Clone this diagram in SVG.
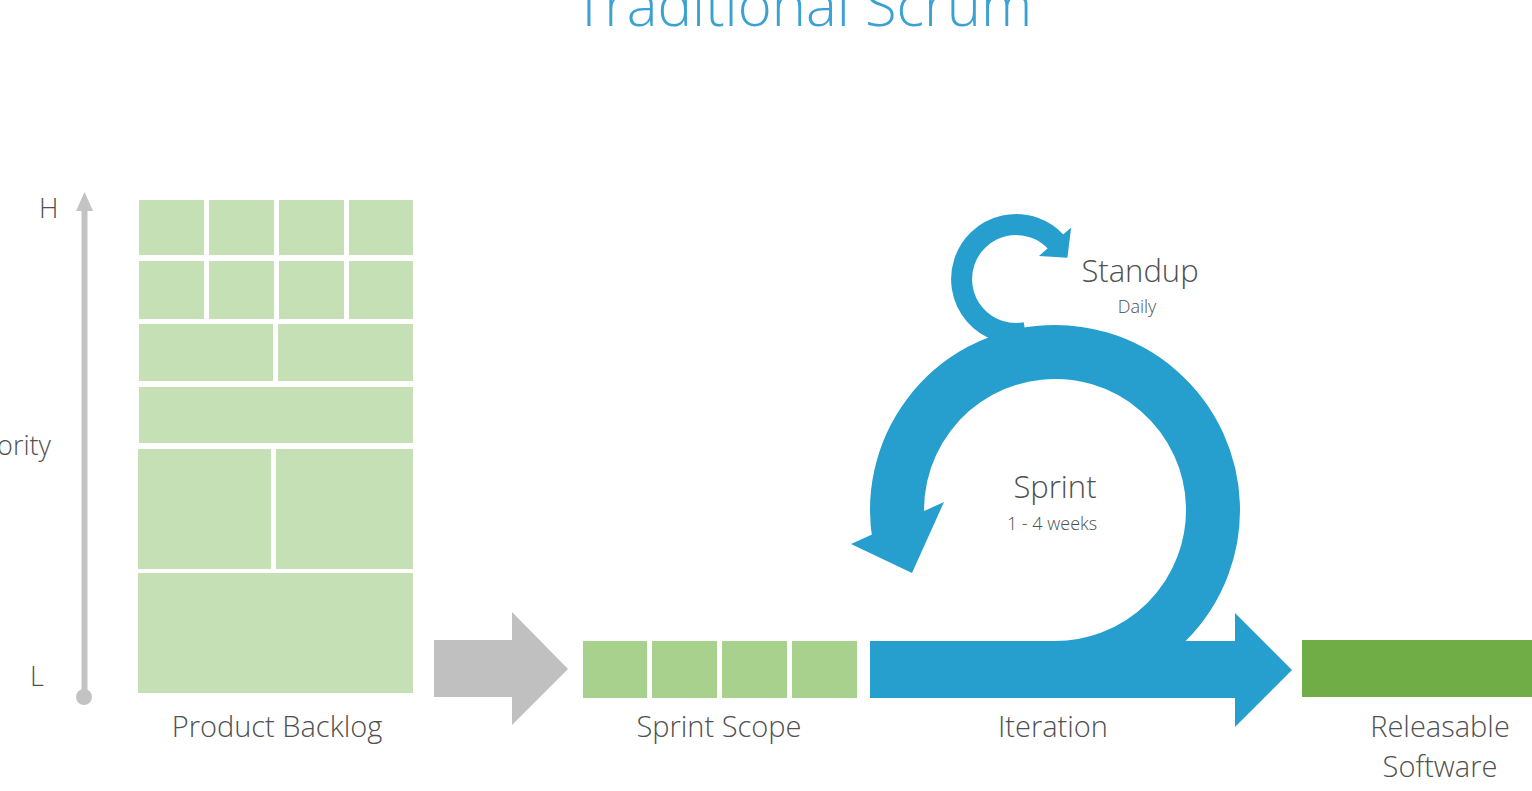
<svg xmlns="http://www.w3.org/2000/svg" width="1532" height="791" viewBox="0 0 1532 791">
  <defs>
    <style>
      .lbl { font-family: "Open Sans", "Liberation Sans", sans-serif; font-weight: 300; fill: #505050; text-anchor: middle; }
      .big { font-size: 29px; }
      .mid { font-size: 31px; }
      .small { font-size: 18px; }
      .axis-lbl { font-family: "Open Sans", "Liberation Sans", sans-serif; font-weight: 300; fill: #505050; font-size: 27px; }
      .backlog rect { fill: #c5e0b4; }
      .scope rect { fill: #a9d18e; }
      .blue { fill: #269fce; }
      .blue-stroke { fill: none; stroke: #269fce; }
    </style>
  </defs>
  <rect width="1532" height="791" fill="#ffffff"/>

  <text x="803" y="26" style="font-family: 'Open Sans', 'Liberation Sans', sans-serif; font-weight: 300; font-size: 58px; fill: #3aa2d3; text-anchor: middle;">Traditional Scrum</text>

  <g id="priority-axis">
    <line x1="84.5" y1="208" x2="84.5" y2="697" stroke="#c3c3c3" stroke-width="6"/>
    <polygon points="84.5,192 93,211 76,211" fill="#c3c3c3"/>
    <circle cx="84" cy="697" r="8" fill="#c3c3c3"/>
    <text class="axis-lbl" x="39" y="218">H</text>
    <text class="axis-lbl" x="30" y="686">L</text>
    <text class="axis-lbl" x="51" y="455" text-anchor="end">Priority</text>
  </g>

  <g id="node-product-backlog">
    <g class="backlog">
      <rect x="139" y="200" width="65" height="55"/>
      <rect x="209" y="200" width="65" height="55"/>
      <rect x="279" y="200" width="65" height="55"/>
      <rect x="349" y="200" width="64" height="55"/>
      <rect x="139" y="261" width="65" height="58"/>
      <rect x="209" y="261" width="65" height="58"/>
      <rect x="279" y="261" width="65" height="58"/>
      <rect x="349" y="261" width="64" height="58"/>
      <rect x="139" y="324" width="134" height="57"/>
      <rect x="278" y="324" width="135" height="57"/>
      <rect x="139" y="387" width="274" height="56"/>
      <rect x="138" y="449" width="133" height="120"/>
      <rect x="276" y="449" width="137" height="120"/>
      <rect x="138" y="573" width="275" height="120"/>
    </g>
    <text class="lbl big" x="277" y="737">Product Backlog</text>
  </g>

  <g id="connectors">
    <polygon points="434,640 512,640 512,612 568,669 512,725 512,697 434,697" fill="#c0c0c0"/>
  </g>

  <g id="node-sprint-scope">
    <g class="scope">
      <rect x="583" y="641" width="64" height="57"/>
      <rect x="652" y="641" width="65" height="57"/>
      <rect x="722" y="641" width="65" height="57"/>
      <rect x="792" y="641" width="65" height="57"/>
    </g>
    <text class="lbl big" x="719" y="737">Sprint Scope</text>
  </g>

  <g id="node-standup">
    <path class="blue-stroke" stroke-width="21" d="M 1025.5 332.7 A 54.5 54.5 0 1 1 1055.9 241.8"/>
    <polygon class="blue" points="1071.1,227.5 1038.9,256.1 1067.4,257.8"/>
    <text class="lbl mid" x="1140" y="282">Standup</text>
    <text class="lbl small" x="1137" y="313">Daily</text>
  </g>

  <g id="node-sprint">
    <path class="blue-stroke" stroke-width="54" d="M 1049.5 667.9 A 158 158 0 1 0 899.4 537.4"/>
    <polygon class="blue" points="851,544 944,502 912,573"/>
    <text class="lbl mid" x="1055" y="498">Sprint</text>
    <text class="lbl small" x="1052" y="530">1 - 4 weeks</text>
  </g>

  <g id="node-iteration">
    <polygon class="blue" points="870,641 1235,641 1235,613 1292,670 1235,727 1235,698 870,698"/>
    <text class="lbl big" x="1053" y="737">Iteration</text>
  </g>

  <g id="node-releasable-software">
    <rect x="1302" y="640" width="230" height="57" fill="#70ad47"/>
    <text class="lbl big" x="1440" y="737">Releasable</text>
    <text class="lbl big" x="1440" y="777">Software</text>
  </g>
</svg>
